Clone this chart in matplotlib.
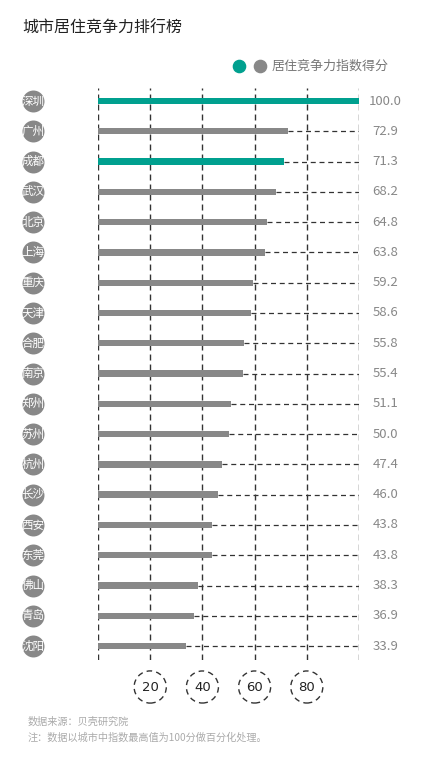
import matplotlib
matplotlib.use("Agg")
import matplotlib.pyplot as plt

plt.rcParams['font.family'] = ['Noto Sans CJK SC', 'DejaVu Sans']

# ---------- Data ----------
cities = ["深圳", "广州", "成都", "武汉", "北京", "上海", "重庆", "天津", "合肥", "南京",
          "郑州", "苏州", "杭州", "长沙", "西安", "东莞", "佛山", "青岛", "沈阳"]
scores = [100.0, 72.9, 71.3, 68.2, 64.8, 63.8, 59.2, 58.6, 55.8, 55.4,
          51.1, 50.0, 47.4, 46.0, 43.8, 43.8, 38.3, 36.9, 33.9]
highlight = ["深圳", "成都"]
ticks = [20, 40, 60, 80]

TEAL = "#00A08F"
GREY = "#888888"
DARK = "#333333"

# ---------- Figure ----------
fig = plt.figure(figsize=(4.26, 7.6), dpi=100)
W, H = 426, 760

# main axes: x 0..100 -> px 98..359, dashes run px 88..660
ax = fig.add_axes([98 / W, 1 - 660 / H, (359 - 98) / W, (660 - 88) / H])
ax.set_xlim(0, 100)
ax.set_ylim(18.46, -0.43)
ax.axis("off")

# vertical dashed grid
for x in [0] + ticks + [100]:
    ax.axvline(x, color=DARK, lw=1.0, ls=(0, (4.3, 2.9)), zorder=1)

for i, (c, v) in enumerate(zip(cities, scores)):
    col = TEAL if c in highlight else GREY
    ax.barh(i, v, height=0.21, color=col, zorder=3)
    if v < 100:
        ax.plot([v, 100], [i, i], color=DARK, lw=0.9, ls=(0, (4, 3)), zorder=2)
    # city badge
    ax.scatter(-24.9, i, s=250, color=GREY, clip_on=False, zorder=4, linewidths=0)
    ax.text(-24.9, i, c, color="white", fontsize=8.3, ha="center", va="center",
            zorder=5, clip_on=False)
    ax.text(110.2, i, f"{v:.1f}", color=GREY, fontsize=9.5, ha="center", va="center",
            clip_on=False)

# tick labels in dashed circles
tick_y = 18.46 + (687 - 660) / 30.28
for t in ticks:
    ax.text(t, tick_y, str(t), fontsize=9.5, color="#222222", ha="center", va="center",
            clip_on=False, family="DejaVu Sans",
            bbox=dict(boxstyle="circle,pad=0.58", fc="white", ec=DARK, ls=(0, (4, 3)), lw=1))

# title
fig.text(22 / W, 1 - 28 / H, "城市居住竞争力排行榜", fontsize=11.5, color="#222222",
         ha="left", va="center", weight="medium")

# legend
fig.add_artist(plt.Line2D([239 / W], [1 - 66 / H], marker="o", ms=8.8, color=TEAL,
                          transform=fig.transFigure, lw=0))
fig.add_artist(plt.Line2D([260 / W], [1 - 66 / H], marker="o", ms=8.8, color=GREY,
                          transform=fig.transFigure, lw=0))
fig.text(272 / W, 1 - 66 / H, "居住竞争力指数得分", fontsize=9.4, color="#777777",
         ha="left", va="center")

# footer
fig.text(28 / W, 1 - 722 / H, "数据来源：贝壳研究院", fontsize=7.3, color="#AAAAAA",
         ha="left", va="center")
fig.text(28 / W, 1 - 738 / H, "注：数据以城市中指数最高值为100分做百分化处理。", fontsize=7.3,
         color="#AAAAAA", ha="left", va="center")

fig.savefig("out.png", dpi=100)
